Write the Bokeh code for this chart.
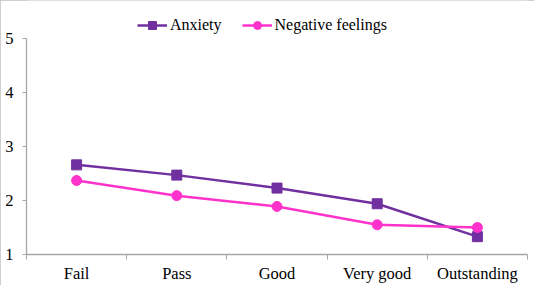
from bokeh.plotting import figure
from bokeh.models import Range1d, FixedTicker, Legend, LegendItem
from bokeh.embed import file_html
from bokeh.resources import INLINE

categories = ["Fail", "Pass", "Good", "Very good", "Outstanding"]
anxiety = [2.66, 2.47, 2.23, 1.94, 1.33]
negative = [2.37, 2.09, 1.89, 1.55, 1.50]
y_ticks = [1, 2, 3, 4, 5]

xs = [i + 0.5 for i in range(len(categories))]

FONT = "Liberation Serif"
AXIS_COL = "#a6a6a6"

# layout (pixels): frame from top of figure; y=5 sits 38px below top, y=1 at frame bottom
FRAME_H = 254
Y5_PX = 38
px_per_unit = (FRAME_H - Y5_PX) / (y_ticks[-1] - y_ticks[0])
y_top = y_ticks[-1] + Y5_PX / px_per_unit

p = figure(width=534, height=285, output_backend="svg", toolbar_location=None,
           x_range=Range1d(0, len(categories)), y_range=Range1d(y_ticks[0], y_top),
           min_border_left=26, min_border_right=7, min_border_top=0, min_border_bottom=30)
p.styles = {"outline": "1px solid #bfbfbf", "outline-offset": "-1px"}
p.outline_line_color = None
p.xgrid.visible = False
p.ygrid.visible = False

ra = p.line(xs, anxiety, line_color="#7030A0", line_width=2.5)
ma = p.scatter(xs, anxiety, marker="square", size=10, fill_color="#7030A0", line_color="#7030A0")
rn = p.line(xs, negative, line_color="#FF33CC", line_width=2.5)
mn = p.scatter(xs, negative, marker="circle", size=10, fill_color="#FF33CC", line_color="#FF33CC")

p.xaxis.ticker = FixedTicker(ticks=xs, minor_ticks=list(range(len(categories) + 1)))
p.xaxis.major_label_overrides = {x: c for x, c in zip(xs, categories)}
p.xaxis.major_tick_line_color = None
p.xaxis.major_tick_out = 0
p.xaxis.major_tick_in = 0
p.xaxis.minor_tick_line_color = AXIS_COL
p.xaxis.minor_tick_out = 5
p.xaxis.minor_tick_in = 0
p.xaxis.major_label_standoff = 4
p.xaxis.axis_line_color = AXIS_COL

p.yaxis.ticker = FixedTicker(ticks=y_ticks)
p.yaxis.bounds = (y_ticks[0], y_ticks[-1])
p.yaxis.minor_tick_line_color = None
p.yaxis.major_tick_out = 4
p.yaxis.major_tick_in = 0
p.yaxis.major_tick_line_color = AXIS_COL
p.yaxis.axis_line_color = AXIS_COL
p.yaxis.major_label_standoff = 9

for ax in (p.xaxis, p.yaxis):
    ax.major_label_text_font = FONT
    ax.major_label_text_font_size = "16.5px"
    ax.major_label_text_color = "#000000"
    ax.axis_line_width = 1.3

legend = Legend(items=[LegendItem(label="Anxiety", renderers=[ra, ma]),
                       LegendItem(label="Negative feelings", renderers=[rn, mn])],
                orientation="horizontal", location=(111, 219),
                glyph_width=30, glyph_height=20, label_standoff=3, spacing=20,
                padding=0, margin=0, border_line_color=None, background_fill_alpha=0,
                label_text_font=FONT, label_text_font_size="16px", label_text_color="#000000")
p.add_layout(legend)

open("out.html", "w").write(file_html(p, INLINE))
